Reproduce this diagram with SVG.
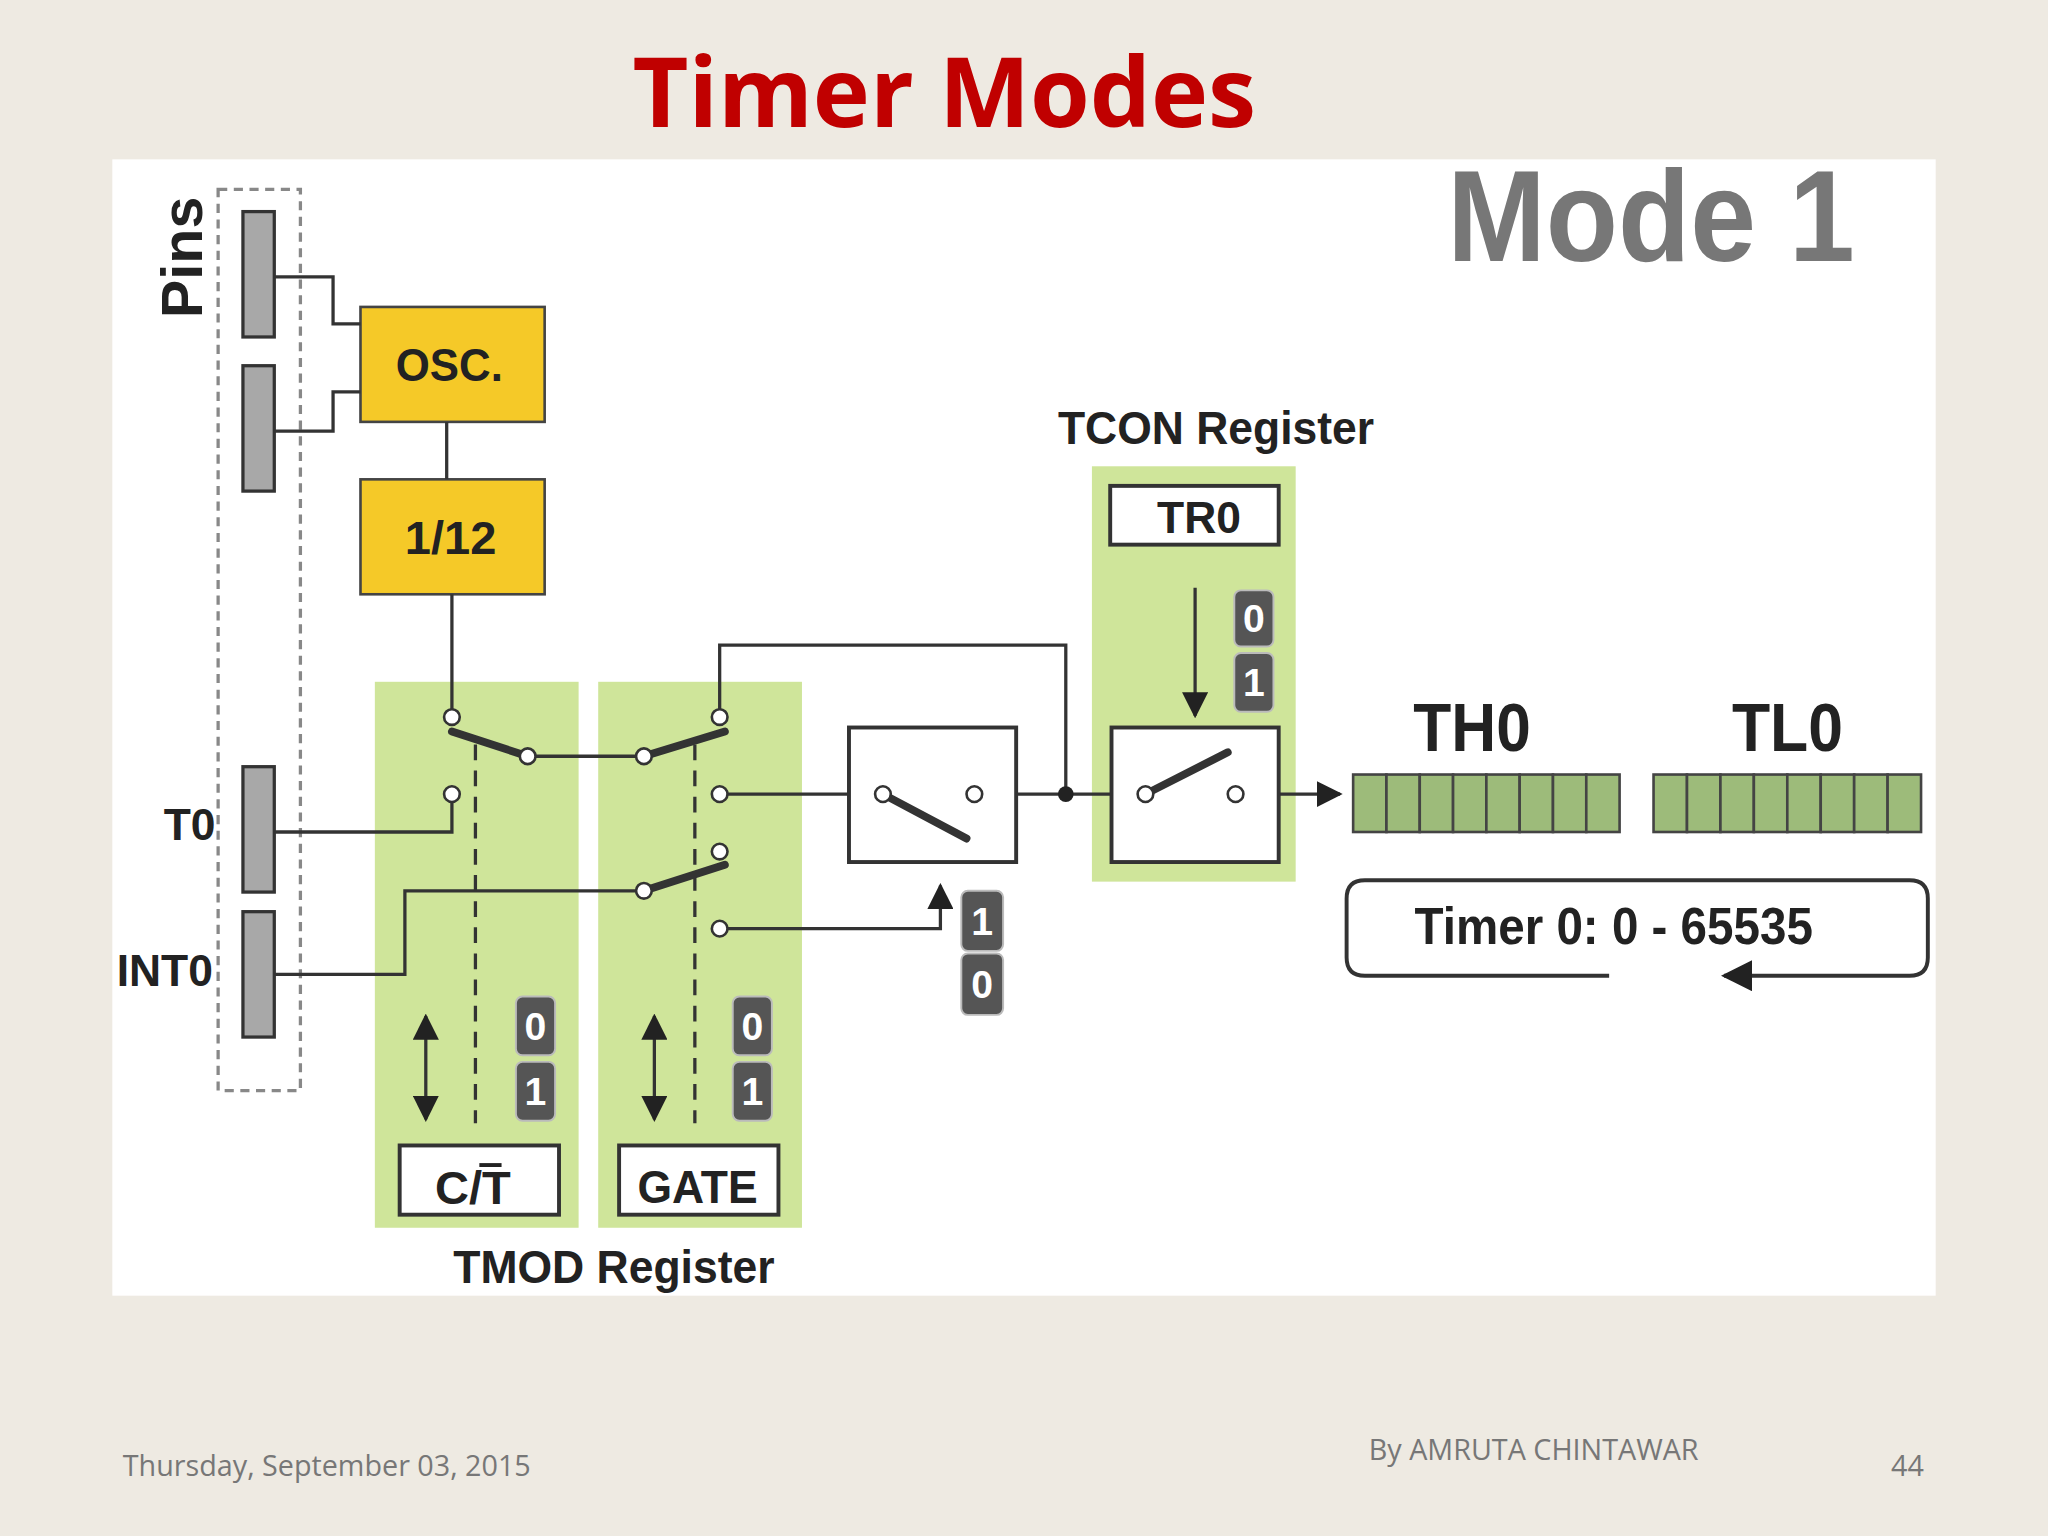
<svg xmlns="http://www.w3.org/2000/svg" width="2048" height="1536" viewBox="0 0 2048 1536">
<defs>
<style>
.t{font-family:"Liberation Sans Narrow","Liberation Sans",Arial,sans-serif;font-weight:bold;fill:#222}
.ln{stroke:#333;stroke-width:2.5;fill:none}
.arm{stroke:#333;stroke-width:6;stroke-linecap:round}
.c{fill:#fff;stroke:#333;stroke-width:2}
.g{fill:#cfe59a}
.pin{fill:#a8a8a8;stroke:#333;stroke-width:2.5}
.y{fill:#f5c928;stroke:#444;stroke-width:2}
.bx{fill:#fff;stroke:#333;stroke-width:3}
.bd{fill:#555;stroke:#bbb;stroke-width:1.5}
.bt{font-family:"Liberation Sans",Arial,sans-serif;font-weight:bold;fill:#fff;font-size:30px;text-anchor:middle}
.cell{fill:#9dbb7a;stroke:#444;stroke-width:2}
.ft{font-family:"Open Sans","Noto Sans",sans-serif;fill:#777;font-size:22px}
</style>
<marker id="ah" viewBox="0 0 10 10" refX="9" refY="5" markerWidth="8" markerHeight="8" orient="auto-start-reverse"><path d="M0,0L10,5L0,10z" fill="#222"/></marker>
</defs>
<rect width="2048" height="1536" fill="#eeeae2"/>
<g transform="scale(1.30612)">
<text x="723" y="97" text-anchor="middle" font-family="'Open Sans','Noto Sans',sans-serif" font-weight="bold" font-size="74" fill="#c00000">Timer Modes</text>
<rect x="86" y="122" width="1396" height="870" fill="#fff"/>
<text x="1108" y="200" textLength="312" lengthAdjust="spacingAndGlyphs" class="t" style="fill:#777;font-size:100px">Mode 1</text>

<g id="panels">
<rect class="g" x="287" y="522" width="156" height="418"/>
<rect class="g" x="458" y="522" width="156" height="418"/>
<rect class="g" x="836" y="357" width="156" height="318"/>
</g>

<g id="pins">
<rect x="167" y="145" width="63" height="690" fill="none" stroke="#888" stroke-width="2.5" stroke-dasharray="7,5"/>
<text transform="translate(155,197) rotate(-90)" text-anchor="middle" class="t" style="font-size:44px">Pins</text>
<rect class="pin" x="186" y="162" width="24" height="96"/>
<rect class="pin" x="186" y="280" width="24" height="96"/>
<rect class="pin" x="186" y="587" width="24" height="96"/>
<rect class="pin" x="186" y="698" width="24" height="96"/>
<text x="165" y="643" text-anchor="end" class="t" style="font-size:34px">T0</text>
<text x="163" y="755" text-anchor="end" class="t" style="font-size:34px">INT0</text>
</g>

<g id="osc"><rect class="y" x="276" y="235" width="141" height="88"/><text x="303" y="292" textLength="82" lengthAdjust="spacingAndGlyphs" class="t" style="font-size:36px">OSC.</text></g>
<g id="div12"><rect class="y" x="276" y="367" width="141" height="88"/><text x="345" y="424" text-anchor="middle" class="t" style="font-size:36px">1/12</text></g>

<g id="connectors">
<path class="ln" d="M210,212H255V248H276M210,330H255V300H276M342,323V367M346,455V549"/>
<path class="ln" d="M210,637H346V608M404,579H493M551,549V494H816V608M551,608H676M746,608H877M946,608H1026" marker-end="url(#ah)"/>
<path class="ln" d="M210,746H310V682H493"/>
<path class="ln" d="M551,711H720V678" marker-end="url(#ah)"/>
<path class="ln" d="M915,450V548" marker-end="url(#ah)"/>
<path class="ln" d="M364,570V860M532,570V860" stroke-dasharray="12,8"/>
<path class="ln" d="M326,778V857" marker-start="url(#ah)" marker-end="url(#ah)"/>
<path class="ln" d="M501,778V857" marker-start="url(#ah)" marker-end="url(#ah)"/>
<circle cx="816" cy="608" r="6" fill="#222"/>
</g>

<g id="switches">
<rect class="bx" x="650" y="557" width="128" height="103"/>
<rect class="bx" x="851" y="557" width="128" height="103"/>
<line class="arm" x1="346" y1="560" x2="404" y2="579"/>
<line class="arm" x1="493" y1="579" x2="555" y2="560"/>
<line class="arm" x1="493" y1="682" x2="555" y2="662"/>
<line class="arm" x1="676" y1="608" x2="740" y2="642"/>
<line class="arm" x1="877" y1="608" x2="940" y2="576"/>
<circle class="c" cx="346" cy="549" r="6"/><circle class="c" cx="404" cy="579" r="6"/><circle class="c" cx="346" cy="608" r="6"/>
<circle class="c" cx="493" cy="579" r="6"/><circle class="c" cx="551" cy="549" r="6"/><circle class="c" cx="551" cy="608" r="6"/>
<circle class="c" cx="493" cy="682" r="6"/><circle class="c" cx="551" cy="652" r="6"/><circle class="c" cx="551" cy="711" r="6"/>
<circle class="c" cx="676" cy="608" r="6"/><circle class="c" cx="746" cy="608" r="6"/>
<circle class="c" cx="877" cy="608" r="6"/><circle class="c" cx="946" cy="608" r="6"/>
</g>

<g id="tcon">
<rect class="bx" x="850" y="372" width="129" height="45"/>
<text x="918" y="408" text-anchor="middle" class="t" style="font-size:34px">TR0</text>
<text x="810" y="340" textLength="242" lengthAdjust="spacingAndGlyphs" class="t" style="font-size:36px">TCON Register</text>
<rect class="bd" x="945" y="452" width="30" height="43" rx="5"/><text class="bt" x="960" y="484">0</text>
<rect class="bd" x="945" y="500" width="30" height="45" rx="5"/><text class="bt" x="960" y="533">1</text>
</g>

<g id="tmod">
<rect class="bx" x="306" y="877" width="122" height="53"/>
<text x="362" y="922" text-anchor="middle" class="t" style="font-size:36px">C/T</text>
<line x1="367" y1="892" x2="384" y2="892" stroke="#222" stroke-width="3"/>
<rect class="bx" x="474" y="877" width="122" height="53"/>
<text x="488" y="921" textLength="92" lengthAdjust="spacingAndGlyphs" class="t" style="font-size:36px">GATE</text>
<text x="347" y="982" textLength="246" lengthAdjust="spacingAndGlyphs" class="t" style="font-size:36px">TMOD Register</text>
<rect class="bd" x="395" y="763" width="30" height="45" rx="5"/><text class="bt" x="410" y="796">0</text>
<rect class="bd" x="395" y="813" width="30" height="45" rx="5"/><text class="bt" x="410" y="846">1</text>
<rect class="bd" x="561" y="763" width="30" height="45" rx="5"/><text class="bt" x="576" y="796">0</text>
<rect class="bd" x="561" y="813" width="30" height="45" rx="5"/><text class="bt" x="576" y="846">1</text>
<rect class="bd" x="736" y="682" width="32" height="46" rx="5"/><text class="bt" x="752" y="716">1</text>
<rect class="bd" x="736" y="730" width="32" height="47" rx="5"/><text class="bt" x="752" y="764">0</text>
</g>

<g id="counters">
<text x="1082" y="575" textLength="90" lengthAdjust="spacingAndGlyphs" class="t" style="font-size:52px">TH0</text>
<text x="1326" y="575" textLength="85" lengthAdjust="spacingAndGlyphs" class="t" style="font-size:52px">TL0</text>
<rect class="cell" x="1036" y="593" width="25.5" height="44"/><rect class="cell" x="1061.5" y="593" width="25.5" height="44"/><rect class="cell" x="1087" y="593" width="25.5" height="44"/><rect class="cell" x="1112.5" y="593" width="25.5" height="44"/><rect class="cell" x="1138" y="593" width="25.5" height="44"/><rect class="cell" x="1163.5" y="593" width="25.5" height="44"/><rect class="cell" x="1189" y="593" width="25.5" height="44"/><rect class="cell" x="1214.5" y="593" width="25.5" height="44"/>
<rect class="cell" x="1266" y="593" width="25.6" height="44"/><rect class="cell" x="1291.6" y="593" width="25.6" height="44"/><rect class="cell" x="1317.2" y="593" width="25.6" height="44"/><rect class="cell" x="1342.8" y="593" width="25.6" height="44"/><rect class="cell" x="1368.4" y="593" width="25.6" height="44"/><rect class="cell" x="1394" y="593" width="25.6" height="44"/><rect class="cell" x="1419.6" y="593" width="25.6" height="44"/><rect class="cell" x="1445.2" y="593" width="25.6" height="44"/>
<path d="M1232,747H1045Q1031,747 1031,733V688Q1031,674 1045,674H1462Q1476,674 1476,688V733Q1476,747 1462,747H1320" fill="none" stroke="#333" stroke-width="3" marker-end="url(#ah)"/>
<text x="1083" y="723" textLength="305" lengthAdjust="spacingAndGlyphs" class="t" style="font-size:40px">Timer 0: 0 - 65535</text>
</g>

<text x="94" y="1130" class="ft">Thursday, September 03, 2015</text>
<text x="1048" y="1118" class="ft">By AMRUTA CHINTAWAR</text>
<text x="1473" y="1130" text-anchor="end" class="ft">44</text>
</g>
</svg>
